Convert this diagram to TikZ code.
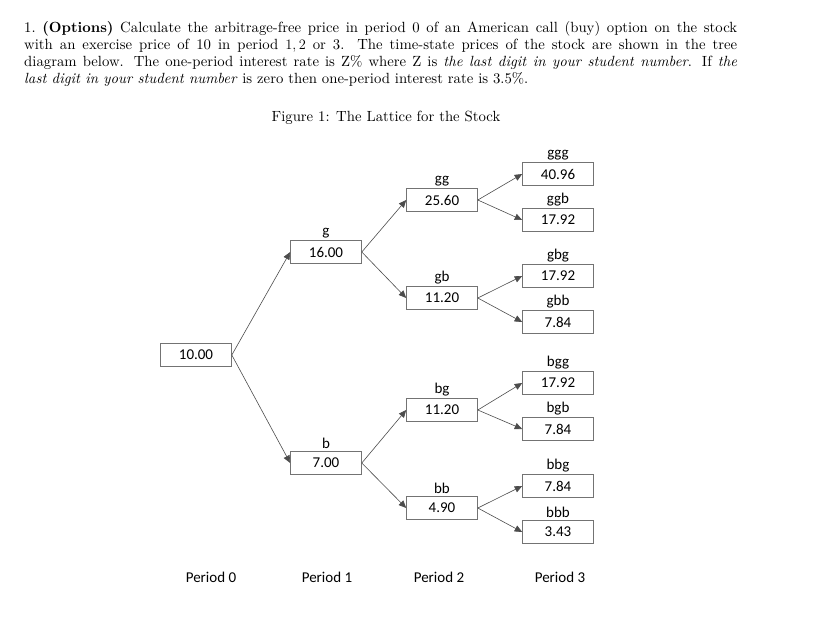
\documentclass[tikz,border=0pt]{standalone}
\usepackage{amsmath,amssymb}
\usepackage{fontspec}
\setmainfont{lmroman10}[Extension=.otf, UprightFont=*-regular, BoldFont=*-bold,
    ItalicFont=*-italic, BoldItalicFont=*-bolditalic]
\newfontfamily\calib{Carlito}
\usetikzlibrary{arrows.meta, positioning}

\begin{document}
\begin{tikzpicture}[x=1pt, y=-1pt, >={Triangle[length=7.5pt, width=6.5pt]},
    price/.style={draw=black!55, line width=0.6pt, minimum width=71pt, minimum height=23pt, inner sep=0pt, font=\calib\fontsize{15}{16}\selectfont},
    tag/.style={inner sep=1pt, font=\calib\fontsize{15}{16}\selectfont},
    edge/.style={->, draw=black!70, line width=0.6pt}]
    \useasboundingbox (0,0) rectangle (820,627);
    % question text
    \node[anchor=north west, inner sep=0pt, text width=713pt, align=justify,
          font=\fontsize{14.75}{17}\selectfont] (question) at (24,21) {%
        1.\ \textbf{(Options)} Calculate the arbitrage-free price in period 0 of an American call (buy) option on the stock\linebreak
        with an exercise price of 10 in period $1,2$ or 3.  The time-state prices of the stock are shown in the tree\linebreak
        diagram below. The one-period interest rate is Z\% where Z is \emph{the last digit in your student number}. If \emph{the}\linebreak
        \emph{last digit in your student number} is zero then one-period interest rate is 3.5\%.};
    \node[font=\fontsize{14.75}{17}\selectfont] (caption) at (386,118) {Figure 1: The Lattice for the Stock};
    % the lattice
    \foreach \nm/\x/\y/\val in {0/196/355/10.00, g/326/252/16.00, b/326/463/7.00,
        gg/442/200/25.60, gb/442/298/11.20, bg/442/410/11.20, bb/442/508/4.90,
        ggg/558/174/40.96, ggb/558/220/17.92, gbg/558/276/17.92, gbb/558/322/7.84,
        bgg/558/383/17.92, bgb/558/429/7.84, bbg/558/486/7.84, bbb/558/532/3.43}
        \node[price] (s\nm) at (\x,\y) {\val};
    \foreach \nm in {g, b, gg, gb, bg, bb, ggg, ggb, gbg, gbb, bgg, bgb, bbg, bbb}
        \node[tag, above=1pt of s\nm] (t\nm) {\nm};
    \foreach \a/\b in {0/g, 0/b, g/gg, g/gb, b/bg, b/bb, gg/ggg, gg/ggb, gb/gbg, gb/gbb,
        bg/bgg, bg/bgb, bb/bbg, bb/bbb}
        \draw[edge] (s\a.east) -- (s\b.west);
    % periods
    \foreach \i/\x in {0/211, 1/327, 2/439, 3/560}
        \node[tag] (p\i) at (\x,577) {Period \i};
\end{tikzpicture}
\end{document}
